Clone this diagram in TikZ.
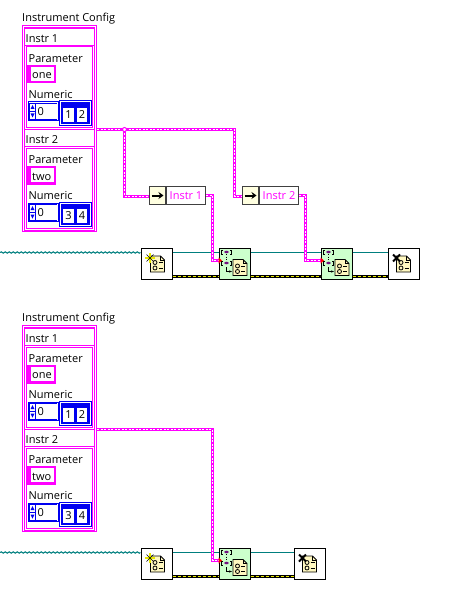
\documentclass[tikz,border=0pt]{standalone}
\usepackage{fontspec}
\setmainfont{Open Sans}
\usepackage{xcolor}
\usepackage{tikz}
\usetikzlibrary{arrows.meta,positioning,calc,decorations.pathmorphing}

\definecolor{clpink}{HTML}{FF00FF}
\definecolor{arblue}{HTML}{0000F0}
\definecolor{refteal}{HTML}{007F7F}
\definecolor{erryellow}{HTML}{E8E800}
\definecolor{pagecream}{HTML}{FFF8C0}
\definecolor{setgreen}{HTML}{CCFFCC}
\definecolor{ubcream}{HTML}{FFFFE0}
\definecolor{eyepurple}{HTML}{70107F}

\tikzset{
  txt/.style={anchor=west, inner sep=0pt, yshift=-1.2pt, font=\fontsize{11}{13}\selectfont},
  frame/.style={draw=clpink, anchor=north west, inner sep=0pt, line width=1pt, fill=white},
  cell/.style={fill=white, anchor=north west, inner sep=0pt, minimum width=10.5, minimum height=13.5, font=\fontsize{11}{13}\selectfont},
  vibox/.style={draw=black, fill=white, line width=1pt, anchor=north west, inner sep=0pt, minimum width=31, minimum height=31},
  ubbox/.style={draw=black!75, line width=1pt, anchor=north west, inner sep=0pt, minimum height=18},
  clwire/.style={draw=clpink, line width=3pt, postaction={draw=white, line width=1pt, dash pattern=on 2pt off 1.5pt}},
  refwire/.style={draw=refteal, line width=1pt},
  errwire/.style={draw=black, line width=3pt, postaction={draw=erryellow, line width=1.2pt, dash pattern=on 3pt off 2pt}},
  docglyph/.pic={
    \draw[fill=pagecream, line width=.8pt] (0,0) -- (10,0) -- (14,4) -- (14,16) -- (0,16) -- cycle;
    \draw[line width=.8pt] (10,0) -- (10,4) -- (14,4);
    \draw[line width=.8pt] (4.5,6.5) circle (2) (4.5,12) circle (2);
    \draw[line width=.9pt] (8,6.5) -- (12,6.5) (8,12) -- (12,12);
  },
  newglyph/.pic={
    \pic at (10,8) {docglyph};
    \draw[erryellow, line width=1.6pt] (4.5,10) -- (14.5,10) (9.5,5) -- (9.5,15);
    \draw[black, line width=.6pt] (6,6.5) -- (13,13.5) (6,13.5) -- (13,6.5);
  },
  freeglyph/.pic={
    \pic at (9,8) {docglyph};
    \draw[black, line width=2pt] (5.5,6.5) -- (12.5,13.5) (5.5,13.5) -- (12.5,6.5);
  },
  setglyph/.pic={
    \pic at (14.5,11.5) {docglyph};
    \draw[black, line width=.8pt] (4.5,2) -| (3,6) -- (4.5,6) (4.5,13) -| (3,17) -- (4.5,17);
    \draw[black, line width=.8pt] (11.5,2) -| (13,6) -- (11.5,6) (11.5,13) -| (13,17) -- (11.5,17);
    \fill[eyepurple] (8,4) ellipse (2.2 and 1.3) (8,15) ellipse (2.2 and 1.3);
    \draw[black, line width=.7pt, dotted] (8,6) -- (8,13);
    \draw[black, line width=.9pt, -{Stealth[length=3pt]}] (8,19) -- (8,23.5) -- (13.5,23.5);
    \fill[red] (0,9.5) -- (3.5,12.5) -- (0,15.5) -- cycle;
  }
}

% one Instr block of the cluster
\newcommand{\instrblock}[6]{%
  \begin{scope}[shift={(0,#2)}]
    \node[frame, minimum width=70, minimum height=17] (#1head) at (24,28) {};
    \node[txt] at (25.5,37) {#3};
    \node[frame, minimum width=66, minimum height=80] (#1body) at (25.5,46.5) {};
    \node[txt] at (28.5,57) {Parameter};
    \fill[clpink] (27,65) rectangle (56,83.5);
    \node[fill=white, anchor=north west, inner sep=0pt, minimum width=23, minimum height=14] (#1str) at (31,67) {};
    \node[txt] at (32,74.5) {#4};
    \node[txt] at (28.5,93) {Numeric};
    \draw[arblue, line width=1pt, fill=white] (28,102) rectangle (58,120.5);
    \draw[arblue, line width=.8pt] (29.5,103.5) rectangle (35.5,119) (29.5,111.2) -- (35.5,111.2) (35.5,103.5) -- (57,103.5) (35.5,119) -- (57,119);
    \fill[arblue] (32.5,105) -- (34.5,109) -- (30.5,109) -- cycle (32.5,117.5) -- (34.5,113.5) -- (30.5,113.5) -- cycle;
    \node[txt] at (37.5,110.5) {0};
    \draw[arblue, line width=1pt] (59.5,101) rectangle (91,125.5);
    \fill[arblue] (61,102.5) rectangle (89.5,124);
    \node[cell] at (63,108) {#5};
    \node[cell] at (76.5,108) {#6};
  \end{scope}
}

\newcommand{\instrcluster}[2]{%
  \begin{scope}[shift={(0,#2)}]
    \node[txt] (#1title) at (22,17) {Instrument Config};
    \node[frame, minimum width=74, minimum height=206] (#1) at (22,25) {};
    \node[frame, minimum width=70, minimum height=203, fill=none] at (24,27) {};
  \end{scope}
  \instrblock{#1a}{#2}{Instr 1}{one}{1}{2}
  \instrblock{#1b}{#2+101}{Instr 2}{two}{3}{4}
}

\begin{document}
\begin{tikzpicture}[x=1pt, y=-1pt]
\useasboundingbox (0,0) rectangle (455,607);

\instrcluster{cfgtop}{0}
\instrcluster{cfgbot}{300}

% upper row
\node[ubbox, fill=ubcream, minimum width=16] (ubarrowa) at (149,186) {};
\node[ubbox, fill=white, minimum width=39, text=clpink, font=\fontsize{11}{13}\selectfont, right=0pt of ubarrowa] (ublabela) {Instr 1};
\node[ubbox, fill=ubcream, minimum width=16] (ubarrowb) at (242,186) {};
\node[ubbox, fill=white, minimum width=39, text=clpink, font=\fontsize{11}{13}\selectfont, right=0pt of ubarrowb] (ublabelb) {Instr 2};
\draw[line width=2pt, -{Stealth[length=5pt,width=7pt]}] ([xshift=-6pt]ubarrowa.center) -- ([xshift=6pt]ubarrowa.center);
\draw[line width=2pt, -{Stealth[length=5pt,width=7pt]}] ([xshift=-6pt]ubarrowb.center) -- ([xshift=6pt]ubarrowb.center);

\node[vibox] (newtop) at (140.5,248) {};
\node[vibox, fill=setgreen] (seta) at (218.5,248) {};
\node[vibox, fill=setgreen] (setb) at (320.5,248) {};
\node[vibox] (freetop) at (387.5,248) {};

% lower row
\node[vibox] (newbot) at (140.5,548) {};
\node[vibox, fill=setgreen] (setc) at (218.5,548) {};
\node[vibox] (freebot) at (293.5,548) {};

\coordinate (lefttop) at (0,252.5);
\coordinate (leftbot) at (0,552.5);
\coordinate (junctop) at (124.5,129.5);
\coordinate (turntop) at (234.5,129.5);
\coordinate (turnbot) at (212.5,429.5);

% session wires
\draw[refwire, decorate, decoration={snake, amplitude=.7pt, segment length=4pt}] (lefttop) -- (newtop.west |- lefttop);
\draw[refwire, decorate, decoration={snake, amplitude=.7pt, segment length=4pt}] (leftbot) -- (newbot.west |- leftbot);
\draw[refwire] (newtop.east |- lefttop) -- (seta.west |- lefttop);
\draw[refwire] (seta.east |- lefttop) -- (setb.west |- lefttop);
\draw[refwire] (setb.east |- lefttop) -- (freetop.west |- lefttop);
\draw[refwire] (newbot.east |- leftbot) -- (setc.west |- leftbot);
\draw[refwire] (setc.east |- leftbot) -- (freebot.west |- leftbot);

% error wires
\draw[errwire] ([yshift=-12.5pt]newtop.east) -- ([yshift=-12.5pt]seta.west);
\draw[errwire] ([yshift=-12.5pt]seta.east) -- ([yshift=-12.5pt]setb.west);
\draw[errwire] ([yshift=-12.5pt]setb.east) -- ([yshift=-12.5pt]freetop.west);
\draw[errwire] ([yshift=-12.5pt]newbot.east) -- ([yshift=-12.5pt]setc.west);
\draw[errwire] ([yshift=-12.5pt]setc.east) -- ([yshift=-12.5pt]freebot.west);

% cluster wires
\draw[clwire] (cfgtop.east |- turntop) -- (turntop) |- ([yshift=-.5pt]ubarrowb.west);
\draw[clwire] (junctop) |- ([yshift=-.5pt]ubarrowa.west);
\draw[clwire] ([yshift=.5pt]ublabela.east) -- ++(6.5,0) |- ([yshift=3.5pt]seta.west);
\draw[clwire] ([yshift=.5pt]ublabelb.east) -- ++(6.5,0) |- ([yshift=3.5pt]setb.west);
\draw[clwire] (cfgbot.east |- turnbot) -- (turnbot) |- ([yshift=3.5pt]setc.west);
\node[circle, draw=clpink, fill=white, line width=1pt, inner sep=0pt, minimum size=4] (dottop) at (junctop) {};

% icons
\pic at (newtop.north west) {newglyph};
\pic at (newbot.north west) {newglyph};
\pic at (seta.north west) {setglyph};
\pic at (setb.north west) {setglyph};
\pic at (setc.north west) {setglyph};
\pic at (freetop.north west) {freeglyph};
\pic at (freebot.north west) {freeglyph};
\end{tikzpicture}
\end{document}
